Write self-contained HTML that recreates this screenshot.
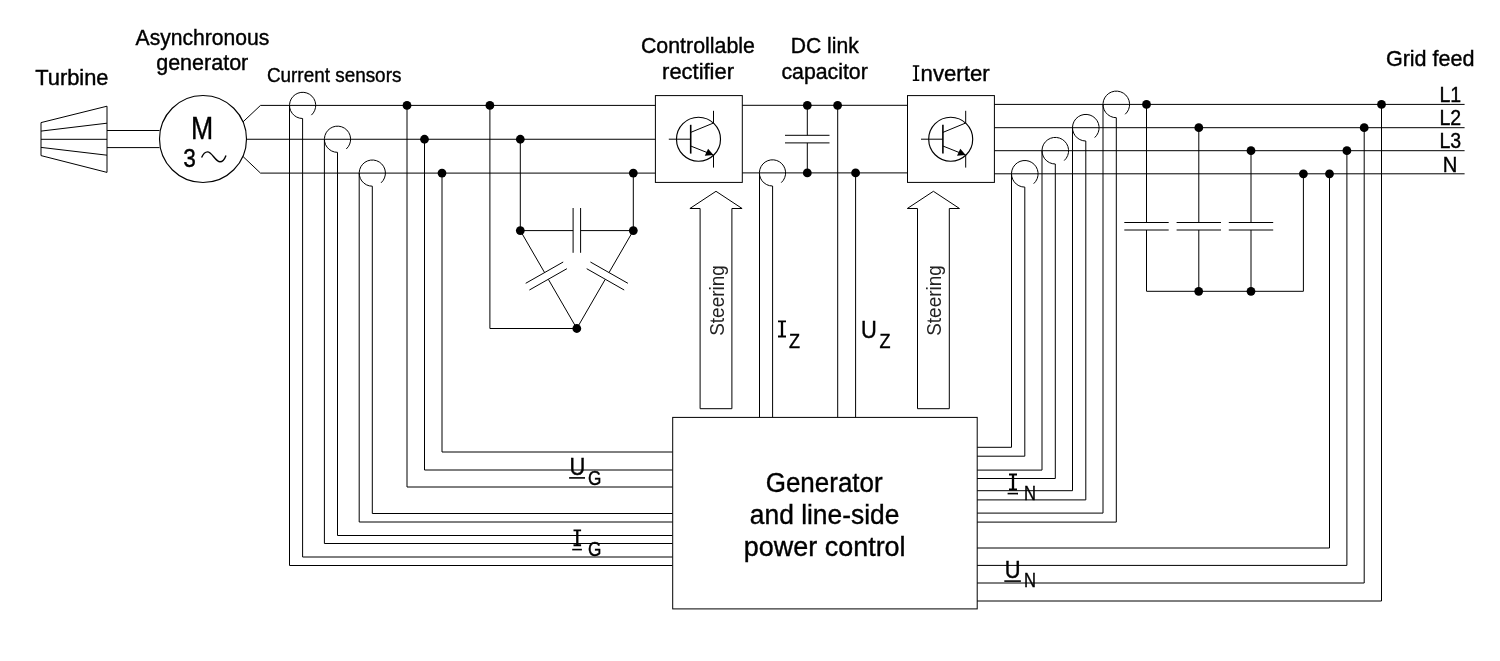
<!DOCTYPE html>
<html><head><meta charset="utf-8"><title>Wind power converter diagram</title>
<style>
html,body{margin:0;padding:0;background:#fff;}
svg{display:block;will-change:transform;font-family:"Liberation Sans",sans-serif;}
svg path,svg circle,svg rect{fill:none;stroke:#000;stroke-width:1.0;}
svg text{fill:#000;stroke:#000;stroke-width:0.4;}
svg .f{fill:#000;stroke:none;}
svg .w{fill:#fff;}
svg text.g{fill:#222;stroke:none;}
</style></head><body>
<svg width="1500" height="661" viewBox="0 0 1500 661">
<path d="M41 122.6L107 106.2L107 172.4L41 155.6Z"/>
<path d="M41 131.1L107 123.2"/>
<path d="M41 139.3L107 139.3"/>
<path d="M41 147.4L107 155.2"/>
<path d="M107 130.5L159.5 130.5"/>
<path d="M107 147.6L159.5 147.6"/>
<circle cx="203" cy="139" r="43.5" style="stroke-width:1.15"/>
<path d="M243.1 121.8L260.5 105.4"/>
<path d="M243.1 156.6L260.5 173.1"/>
<path d="M260.5 105.4L655.4 105.4"/>
<path d="M246.5 139.25L655.4 139.25"/>
<path d="M260.5 173.1L655.4 173.1"/>
<path d="M311.37 115.14A13.1 13.1 0 1 0 302.60 118.50"/>
<path d="M289.5 105.4L289.5 565.5L672.7 565.5"/>
<path d="M302.6 118.5L302.6 557.0L672.7 557.0"/>
<path d="M346.27 148.99A13.1 13.1 0 1 0 337.50 152.35"/>
<path d="M324.4 139.25L324.4 543.5L672.7 543.5"/>
<path d="M337.5 152.35L337.5 535.5L672.7 535.5"/>
<path d="M381.07 182.84A13.1 13.1 0 1 0 372.30 186.20"/>
<path d="M359.2 173.1L359.2 522.0L672.7 522.0"/>
<path d="M372.3 186.2L372.3 513.5L672.7 513.5"/>
<circle cx="407.0" cy="105.4" r="4.4" class="f"/>
<path d="M407.0 105.4L407.0 487.0L672.7 487.0"/>
<circle cx="424.5" cy="139.25" r="4.4" class="f"/>
<path d="M424.5 139.25L424.5 470.0L672.7 470.0"/>
<circle cx="442.0" cy="173.1" r="4.4" class="f"/>
<path d="M442.0 173.1L442.0 452.0L672.7 452.0"/>
<circle cx="489.9" cy="105.4" r="4.4" class="f"/>
<path d="M489.9 105.4L489.9 328.5L576.8 328.5"/>
<circle cx="520.3" cy="139.25" r="4.4" class="f"/>
<path d="M520.3 139.25L520.3 230.6"/>
<circle cx="633.3" cy="173.1" r="4.4" class="f"/>
<path d="M633.3 173.1L633.3 230.6"/>
<circle cx="520.3" cy="230.6" r="4.4" class="f"/>
<circle cx="633.3" cy="230.6" r="4.4" class="f"/>
<circle cx="576.8" cy="328.5" r="4.4" class="f"/>
<path d="M520.3 230.6L573.1 230.6"/>
<path d="M580.6 230.6L633.3 230.6"/>
<path d="M573.1 208L573.1 252.8"/>
<path d="M580.6 208L580.6 252.8"/>
<path d="M520.3 230.6L544.6 272.6"/>
<path d="M548.4 279.4L576.8 328.5"/>
<path d="M525.7 283.3L563.2 262"/>
<path d="M529.4 290.0L566.9 268.7"/>
<path d="M633.3 230.6L609.0 272.6"/>
<path d="M605.2 279.4L576.8 328.5"/>
<path d="M627.9 283.3L590.4 262"/>
<path d="M624.2 290.0L586.7 268.7"/>
<rect x="655.4" y="95.6" width="86.9" height="86.8" class="w"/>
<circle cx="698.5" cy="139.2" r="22" style="stroke-width:1.15"/>
<path d="M668.8 139.2L690.7 139.2"/>
<path d="M690.7 124.79999999999998L690.7 153.6" style="stroke-width:1.6"/>
<path d="M690.7 132.39999999999998L713.5 122.99999999999999"/>
<path d="M713.5 122.99999999999999L713.5 110.79999999999998"/>
<path d="M690.7 146.0L713.5 155.1"/>
<path d="M713.5 155.1L713.5 167.6"/>
<path d="M713.5 155.1L708.1 148.79999999999998L704.8 155.79999999999998Z" class="f"/>
<rect x="907.5" y="95.6" width="86.9" height="86.8" class="w"/>
<circle cx="950.7" cy="139.2" r="22" style="stroke-width:1.15"/>
<path d="M921.0 139.2L942.9000000000001 139.2"/>
<path d="M942.9000000000001 124.79999999999998L942.9000000000001 153.6" style="stroke-width:1.6"/>
<path d="M942.9000000000001 132.39999999999998L965.7 122.99999999999999"/>
<path d="M965.7 122.99999999999999L965.7 110.79999999999998"/>
<path d="M942.9000000000001 146.0L965.7 155.1"/>
<path d="M965.7 155.1L965.7 167.6"/>
<path d="M965.7 155.1L960.3000000000001 148.79999999999998L957.0 155.79999999999998Z" class="f"/>
<path d="M742.3 105.3L907.5 105.3"/>
<path d="M742.3 172.9L907.5 172.9"/>
<circle cx="807.3" cy="105.3" r="4.4" class="f"/>
<circle cx="837.6" cy="105.3" r="4.4" class="f"/>
<circle cx="807.3" cy="172.9" r="4.4" class="f"/>
<circle cx="855.6" cy="172.9" r="4.4" class="f"/>
<path d="M807.3 105.3L807.3 135.3"/>
<path d="M807.3 142.9L807.3 172.9"/>
<path d="M785 135.3L829.5 135.3"/>
<path d="M785 142.9L829.5 142.9"/>
<path d="M837.7 105.3L837.7 417.4"/>
<path d="M855.6 172.9L855.6 417.4"/>
<path d="M781.27 182.64A13.1 13.1 0 1 0 772.50 186.00"/>
<path d="M759.5 172.9L759.5 417.4"/>
<path d="M772.6 186.0L772.6 417.4"/>
<path d="M716 191.3L742.1 208.5L731.9 208.5L731.9 408.7L700.1 408.7L700.1 208.5L689.9 208.5Z"/>
<path d="M933.4 191.3L959.5 208.5L949.3 208.5L949.3 408.7L917.5 408.7L917.5 208.5L907.3 208.5Z"/>
<rect x="672.7" y="417.4" width="304.5" height="191.5" class="w"/>
<path d="M994.4 104.4L1464.6 104.4"/>
<path d="M994.4 127.7L1464.6 127.7"/>
<path d="M994.4 150.7L1464.6 150.7"/>
<path d="M994.4 173.8L1464.6 173.8"/>
<path d="M1033.70 183.68A13.3 13.3 0 1 0 1024.80 187.10"/>
<path d="M1011.5 173.8L1011.5 447.3L977.2 447.3"/>
<path d="M1024.8 187.10000000000002L1024.8 456.2L977.2 456.2"/>
<path d="M1064.20 160.58A13.3 13.3 0 1 0 1055.30 164.00"/>
<path d="M1042.0 150.7L1042.0 470.1L977.2 470.1"/>
<path d="M1055.3 164.0L1055.3 478.5L977.2 478.5"/>
<path d="M1094.70 137.58A13.3 13.3 0 1 0 1085.80 141.00"/>
<path d="M1072.5 127.7L1072.5 490.7L977.2 490.7"/>
<path d="M1085.8 141.0L1085.8 499.9L977.2 499.9"/>
<path d="M1125.20 114.28A13.3 13.3 0 1 0 1116.30 117.70"/>
<path d="M1103.0 104.4L1103.0 513.1L977.2 513.1"/>
<path d="M1116.3 117.7L1116.3 522.1L977.2 522.1"/>
<circle cx="1146.5" cy="104.4" r="4.4" class="f"/>
<path d="M1146.5 104.4L1146.5 222.5"/>
<path d="M1146.5 230L1146.5 291.3"/>
<path d="M1124.3 222.5L1168.7 222.5"/>
<path d="M1124.3 230L1168.7 230"/>
<circle cx="1198.8" cy="127.7" r="4.4" class="f"/>
<path d="M1198.8 127.7L1198.8 222.5"/>
<path d="M1198.8 230L1198.8 291.3"/>
<path d="M1176.6 222.5L1221.0 222.5"/>
<path d="M1176.6 230L1221.0 230"/>
<circle cx="1251.0" cy="150.7" r="4.4" class="f"/>
<path d="M1251.0 150.7L1251.0 222.5"/>
<path d="M1251.0 230L1251.0 291.3"/>
<path d="M1228.8 222.5L1273.2 222.5"/>
<path d="M1228.8 230L1273.2 230"/>
<circle cx="1303.4" cy="173.8" r="4.4" class="f"/>
<path d="M1303.4 173.8L1303.4 291.3L1146.6 291.3"/>
<circle cx="1198.7" cy="291.3" r="4.4" class="f"/>
<circle cx="1251.0" cy="291.3" r="4.4" class="f"/>
<circle cx="1329.5" cy="173.8" r="4.4" class="f"/>
<path d="M1329.5 173.8L1329.5 548.0L977.2 548.0"/>
<circle cx="1346.9" cy="150.7" r="4.4" class="f"/>
<path d="M1346.9 150.7L1346.9 565.4L977.2 565.4"/>
<circle cx="1364.2" cy="127.7" r="4.4" class="f"/>
<path d="M1364.2 127.7L1364.2 583.0L977.2 583.0"/>
<circle cx="1381.5" cy="104.4" r="4.4" class="f"/>
<path d="M1381.5 104.4L1381.5 601.0L977.2 601.0"/>
<text x="35.2" y="84.5" font-size="21.5" text-anchor="start" textLength="73.3" lengthAdjust="spacingAndGlyphs">Turbine</text>
<text x="135.6" y="44.7" font-size="21.5" text-anchor="start" textLength="133.8" lengthAdjust="spacingAndGlyphs">Asynchronous</text>
<text x="156.2" y="70.4" font-size="21.5" text-anchor="start" textLength="92.1" lengthAdjust="spacingAndGlyphs">generator</text>
<text x="266.9" y="81.8" font-size="20.5" text-anchor="start" textLength="134.5" lengthAdjust="spacingAndGlyphs">Current sensors</text>
<text x="640.9" y="53.3" font-size="21.5" text-anchor="start" textLength="114.0" lengthAdjust="spacingAndGlyphs">Controllable</text>
<text x="662.1" y="79.1" font-size="21.5" text-anchor="start" textLength="71.9" lengthAdjust="spacingAndGlyphs">rectifier</text>
<text x="790.7" y="53.3" font-size="21.5" text-anchor="start" textLength="68.1" lengthAdjust="spacingAndGlyphs">DC link</text>
<text x="781.4" y="79.1" font-size="21.5" text-anchor="start" textLength="86.4" lengthAdjust="spacingAndGlyphs">capacitor</text>
<text x="920.6" y="80.9" font-size="21.5" text-anchor="start" textLength="69.0" lengthAdjust="spacingAndGlyphs">nverter</text>
<text x="1385.9" y="66.3" font-size="21.5" text-anchor="start" textLength="88.6" lengthAdjust="spacingAndGlyphs">Grid feed</text>
<text x="1439.4" y="101.6" font-size="21.5" text-anchor="start" textLength="21.7" lengthAdjust="spacingAndGlyphs">L1</text>
<text x="1439.4" y="125.1" font-size="21.5" text-anchor="start" textLength="21.7" lengthAdjust="spacingAndGlyphs">L2</text>
<text x="1439.4" y="147.9" font-size="21.5" text-anchor="start" textLength="21.7" lengthAdjust="spacingAndGlyphs">L3</text>
<text x="1442.8" y="171.8" font-size="21.5" text-anchor="start" textLength="14.6" lengthAdjust="spacingAndGlyphs">N</text>
<text x="765.7" y="491.5" font-size="28.4" text-anchor="start" textLength="117.0" lengthAdjust="spacingAndGlyphs">Generator</text>
<text x="749.8" y="523.5" font-size="28.4" text-anchor="start" textLength="149.6" lengthAdjust="spacingAndGlyphs">and line-side</text>
<text x="743.8" y="555.5" font-size="28.4" text-anchor="start" textLength="161.8" lengthAdjust="spacingAndGlyphs">power control</text>
<text x="191.1" y="138.8" font-size="31.2" text-anchor="start" textLength="22.2" lengthAdjust="spacingAndGlyphs">M</text>
<text x="183.3" y="166.6" font-size="25.8" text-anchor="start" textLength="12.6" lengthAdjust="spacingAndGlyphs">3</text>
<path d="M201.6 157.6C203.2 153.8 205.3 151.9 207.6 151.9C212 151.9 215.4 161.8 220 161.8C222.4 161.8 224.4 159.6 226 155.4" style="stroke-width:1.4"/>
<text transform="translate(724.0 335.8) rotate(-90)" font-size="20.4" textLength="70.6" lengthAdjust="spacingAndGlyphs" class="g">Steering</text>
<text transform="translate(941.4 335.8) rotate(-90)" font-size="20.4" textLength="70.6" lengthAdjust="spacingAndGlyphs" class="g">Steering</text>
<path d="M912.8 65.3h6.5v1.5h-2.3V79.4h2.3v1.5h-6.5v-1.5h2.3V66.8h-2.3Z" class="f"/>
<path d="M778.0 320.4h8.0v1.9h-2.85V335.6h2.85v1.9h-8.0v-1.9h2.85V322.29999999999995h-2.85Z" class="f"/>
<text x="789.0" y="347.7" font-size="19.6" text-anchor="start" textLength="11.0" lengthAdjust="spacingAndGlyphs">Z</text>
<text x="860.9" y="337.5" font-size="24.4" text-anchor="start" textLength="15.8" lengthAdjust="spacingAndGlyphs">U</text>
<text x="879.6" y="347.7" font-size="19.6" text-anchor="start" textLength="11.0" lengthAdjust="spacingAndGlyphs">Z</text>
<text x="569.4" y="475.4" font-size="24.4" text-anchor="start" textLength="15.8" lengthAdjust="spacingAndGlyphs">U</text>
<path d="M569.1 477.9L585.0 477.9" style="stroke-width:1.6"/>
<text x="588.0" y="484.8" font-size="19.6" text-anchor="start" textLength="13.4" lengthAdjust="spacingAndGlyphs">G</text>
<path d="M573.5 529.4h7.6v1.9h-2.65V544.3000000000001h2.65v1.9h-7.6v-1.9h2.65V531.3h-2.65Z" class="f"/>
<path d="M572.2 549.6L581.9 549.6" style="stroke-width:1.6"/>
<text x="588.0" y="556.4" font-size="19.6" text-anchor="start" textLength="13.4" lengthAdjust="spacingAndGlyphs">G</text>
<path d="M1009.0 473.6h8.0v1.9h-2.85V488.6h2.85v1.9h-8.0v-1.9h2.85V475.5h-2.85Z" class="f"/>
<path d="M1007.6 493.6L1018.0 493.6" style="stroke-width:1.6"/>
<text x="1024.0" y="499.8" font-size="19.6" text-anchor="start" textLength="12.0" lengthAdjust="spacingAndGlyphs">N</text>
<text x="1004.8" y="578" font-size="24.4" text-anchor="start" textLength="15.8" lengthAdjust="spacingAndGlyphs">U</text>
<path d="M1004.3 581.1L1020.9 581.1" style="stroke-width:1.6"/>
<text x="1024.0" y="587" font-size="19.6" text-anchor="start" textLength="12.0" lengthAdjust="spacingAndGlyphs">N</text>
</svg>
</body></html>
